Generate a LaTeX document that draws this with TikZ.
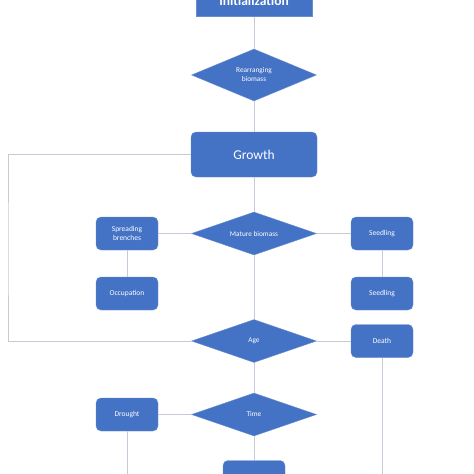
\documentclass[tikz,border=0pt]{standalone}
\usepackage{fontspec}
\setmainfont{Carlito}
\usetikzlibrary{shapes.geometric}

\definecolor{boxblue}{HTML}{4472C4}
\definecolor{linegray}{HTML}{C4CAD6}

\tikzset{
    box/.style={rectangle, rounded corners=5pt, fill=boxblue, draw=boxblue!80!white, line width=0.4pt,
        minimum width=62pt, minimum height=33pt, text=white, align=center,
        font=\fontsize{7.5}{9}\selectfont, inner sep=0pt},
    bigbox/.style={box, minimum width=126pt, minimum height=45pt, font=\fontsize{13.5}{15}\selectfont},
    decision/.style={diamond, shape aspect=2.9, fill=boxblue, draw=boxblue!80!white, line width=0.4pt,
        minimum width=125pt, minimum height=43pt, text=white, align=center,
        font=\fontsize{7.3}{9}\selectfont, inner sep=0pt},
    link/.style={draw=linegray, line width=0.8pt}
}

\begin{document}
\begin{tikzpicture}[x=1pt, y=-1pt]
    \useasboundingbox (0,0) rectangle (474,474);
    \fill[white] (0,0) rectangle (474,474);
    \clip (0,0) rectangle (474,474);

    % Top of the chart
    \node[bigbox, rounded corners=0pt, minimum width=116pt, minimum height=32pt, font=\fontsize{13.5}{15}\selectfont\bfseries] (init) at (254,0.5) {Initialization};
    \node[decision, minimum height=52pt] (rearrange) at (254,75) {Rearranging\\biomass};
    \node[bigbox] (growth) at (254,154.5) {Growth};

    % Middle row
    \node[decision] (mature) at (254,233.5) {Mature biomass};
    \node[box] (spread) at (127,233.5) {Spreading\\brenches};
    \node[box] (seed1) at (382,233.5) {Seedling};
    \node[box] (occup) at (127,293.5) {Occupation};
    \node[box] (seed2) at (382,293.5) {Seedling};

    % Age and death
    \node[decision] (age) at (254,341) {Age};
    \node[box] (death) at (382,341) {Death};

    % Bottom rows
    \node[decision] (time) at (254,414.5) {Time};
    \node[box] (drought) at (127,414.5) {Drought};
    \node[box] (last) at (254,477) {};

    % Free ends
    \coordinate (loop) at (8,250);
    \coordinate (droughtEnd) at (127,474);
    \coordinate (deathEnd) at (382,474);

    % Connectors
    \draw[link] (init) -- (rearrange);
    \draw[link] (rearrange) -- (growth);
    \draw[link] (growth) -- (mature);
    \draw[link] (mature) -- (spread);
    \draw[link] (mature) -- (seed1);
    \draw[link] (spread) -- (occup);
    \draw[link] (seed1) -- (seed2);
    \draw[link] (mature) -- (age);
    \draw[link] (age) -- (death);
    \draw[link] (age) -- (time);
    \draw[link] (time) -- (drought);
    \draw[link] (time) -- (last);
    \draw[link] (drought) -- (droughtEnd);
    \draw[link] (death) -- (deathEnd);

    % Loop back from growth to age
    \draw[link] (growth.west) -| (loop) |- (age.west);
\end{tikzpicture}
\end{document}
